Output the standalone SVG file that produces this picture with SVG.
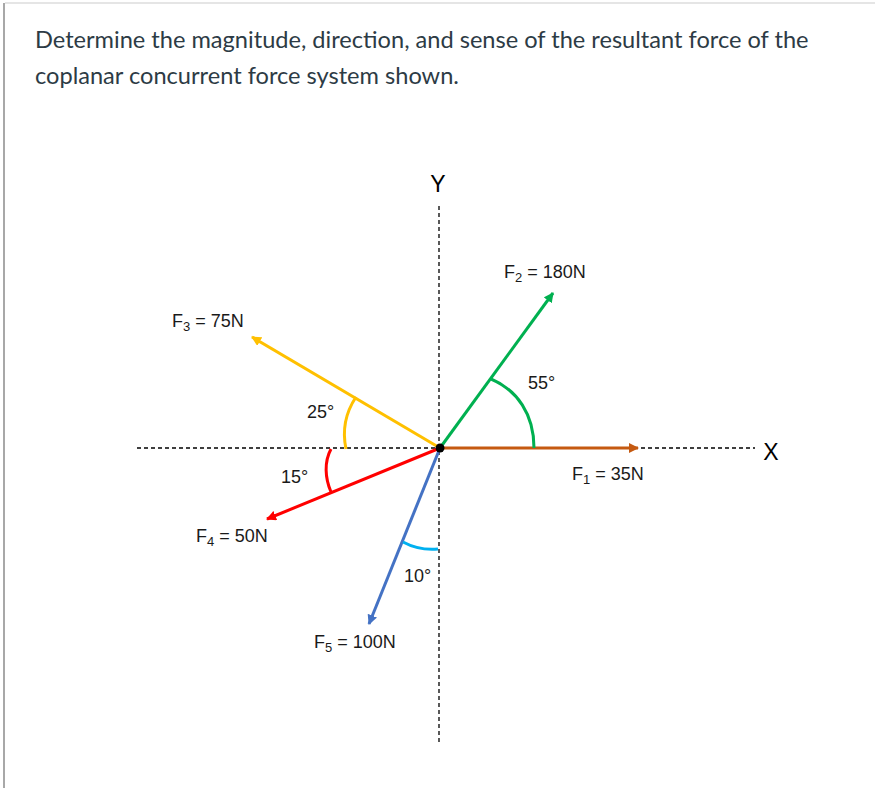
<svg xmlns="http://www.w3.org/2000/svg" width="875" height="788" viewBox="0 0 875 788">
<defs>
<style>
.t{font-family:"Liberation Sans",Arial,sans-serif;font-size:18px;fill:#1a1a1a}
.ax{font-family:"Liberation Sans",Arial,sans-serif;font-size:23px;fill:#000}
.title{font-family:Lato,"Liberation Sans",sans-serif;font-size:23.6px;fill:#2D3B45}
.f{stroke-width:3;fill:none}
.arc{stroke-width:3;fill:none}
.dash{stroke:#000;stroke-width:1.3;stroke-dasharray:4 3;fill:none}
</style>
<marker id="aBrown" markerWidth="10" markerHeight="10" refX="9" refY="5" orient="auto" markerUnits="userSpaceOnUse"><path d="M0,0 L10,5 L0,10 Z" fill="#C55A11"/></marker>
<marker id="aGreen" markerWidth="10" markerHeight="10" refX="9" refY="5" orient="auto" markerUnits="userSpaceOnUse"><path d="M0,0 L10,5 L0,10 Z" fill="#00B050"/></marker>
<marker id="aYellow" markerWidth="10" markerHeight="10" refX="9" refY="5" orient="auto" markerUnits="userSpaceOnUse"><path d="M0,0 L10,5 L0,10 Z" fill="#FFC000"/></marker>
<marker id="aRed" markerWidth="10" markerHeight="10" refX="9" refY="5" orient="auto" markerUnits="userSpaceOnUse"><path d="M0,0 L10,5 L0,10 Z" fill="#FF0000"/></marker>
<marker id="aBlue" markerWidth="10" markerHeight="10" refX="9" refY="5" orient="auto" markerUnits="userSpaceOnUse"><path d="M0,0 L10,5 L0,10 Z" fill="#4472C4"/></marker>
</defs>
<rect width="875" height="788" fill="#fff"/>
<line x1="5" y1="3" x2="875" y2="3" stroke="#dcdcdc" stroke-width="1.5"/>
<line x1="4" y1="3" x2="4" y2="788" stroke="#a8a8a8" stroke-width="2"/>
<g id="title">
<text class="title" x="35" y="48">Determine the magnitude, direction, and sense of the resultant force of the</text>
<text class="title" x="35" y="84">coplanar concurrent force system shown.</text>
</g>
<g id="axes">
<line class="dash" x1="137" y1="448" x2="755" y2="448"/>
<line class="dash" x1="439" y1="206" x2="439" y2="742"/>
<text class="ax" x="438" y="192" text-anchor="middle">Y</text>
<text class="ax" x="771" y="460" text-anchor="middle">X</text>
</g>
<g id="connectors">
<line id="F1" class="f" x1="440" y1="448" x2="638" y2="448" stroke="#C55A11" marker-end="url(#aBrown)"/>
<line id="F2" class="f" x1="440" y1="448" x2="553" y2="293" stroke="#00B050" marker-end="url(#aGreen)"/>
<line id="F3" class="f" x1="440" y1="448" x2="252" y2="337" stroke="#FFC000" marker-end="url(#aYellow)"/>
<line id="F4" class="f" x1="440" y1="448" x2="267" y2="519" stroke="#FF0000" marker-end="url(#aRed)"/>
<line id="F5" class="f" x1="440" y1="448" x2="369" y2="624" stroke="#4472C4" marker-end="url(#aBlue)"/>
<path class="arc" d="M534,448 C534,414 517,390 491,379" stroke="#00B050"/>
<path class="arc" d="M346,449 C342,430 346,412 356,397" stroke="#FFC000"/>
<path class="arc" d="M331,449 C324,462 325,478 331,492" stroke="#FF0000"/>
<path class="arc" d="M403,542 C414,548 426,550 438,549" stroke="#00B0F0"/>
<circle cx="440" cy="448" r="4.5" fill="#000"/>
</g>
<g id="labels">
<text class="t" x="504" y="278">F<tspan font-size="13" dy="4">2</tspan><tspan dy="-4"> = 180N</tspan></text>
<text class="t" x="172" y="327">F<tspan font-size="13" dy="4">3</tspan><tspan dy="-4"> = 75N</tspan></text>
<text class="t" x="572" y="480">F<tspan font-size="13" dy="4">1</tspan><tspan dy="-4"> = 35N</tspan></text>
<text class="t" x="196" y="542">F<tspan font-size="13" dy="4">4</tspan><tspan dy="-4"> = 50N</tspan></text>
<text class="t" x="314" y="648">F<tspan font-size="13" dy="4">5</tspan><tspan dy="-4"> = 100N</tspan></text>
<text class="t" x="307" y="418">25°</text>
<text class="t" x="528" y="389">55°</text>
<text class="t" x="281" y="483">15°</text>
<text class="t" x="404" y="582">10°</text>
</g>
</svg>
